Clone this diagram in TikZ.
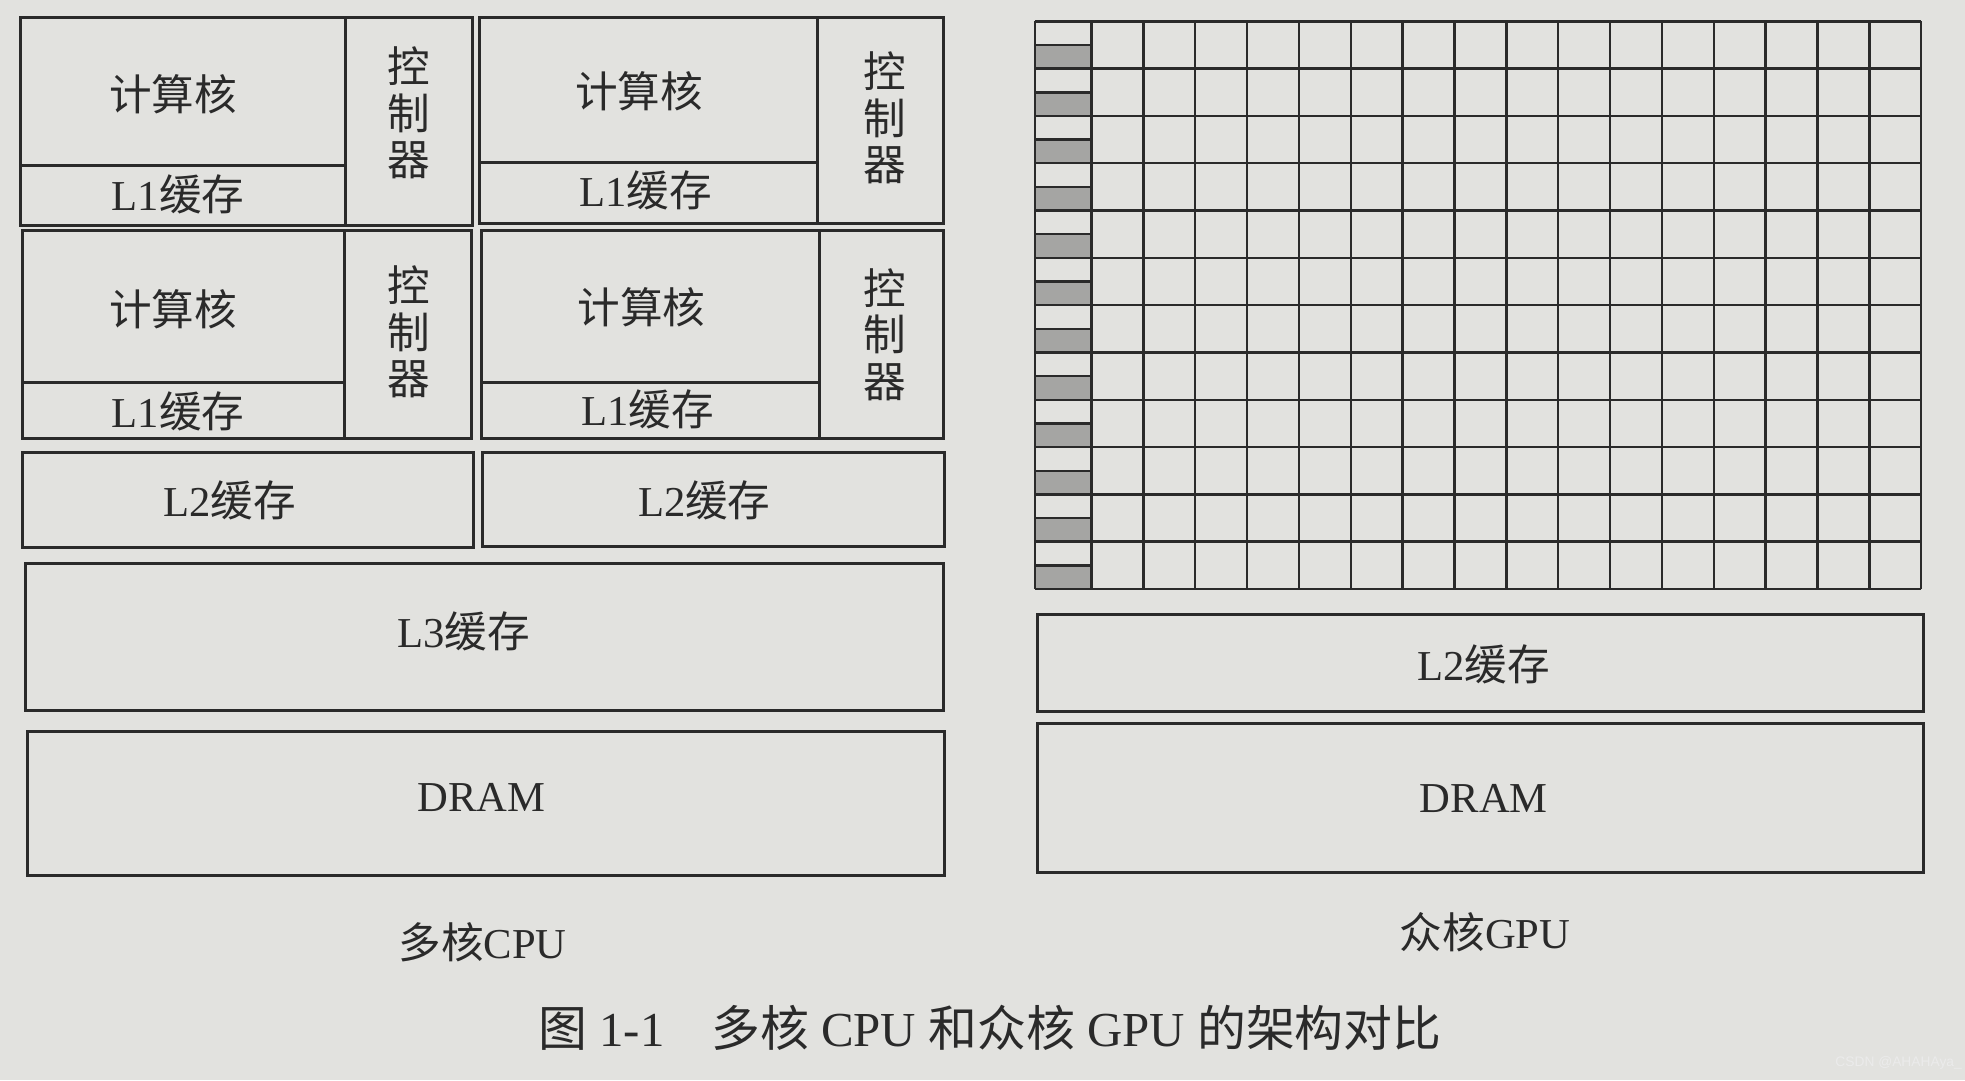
\documentclass[tikz,border=0pt]{standalone}
\usepackage{fontspec}
\setmainfont{Liberation Serif}
\setsansfont{Liberation Sans}
\newfontfamily\cjk{Noto Sans CJK SC}
\definecolor{paper}{RGB}{226,226,223}
\definecolor{ink}{RGB}{42,42,42}
\definecolor{cellgray}{RGB}{165,165,163}
\begin{document}
\begin{tikzpicture}[x=0.5pt,y=-0.5pt,
  frame/.style={draw=ink,line width=1.2pt},
  gridline/.style={draw=ink,line width=1pt},
  lab/.style={font=\fontsize{17}{18}\selectfont,inner sep=0pt,text=ink},
  ctl/.style={align=center,font=\cjk\fontsize{17}{18.5}\selectfont,inner sep=0pt,text=ink},
  captext/.style={font=\fontsize{19.5}{22}\selectfont,inner sep=0pt,text=ink}]
\useasboundingbox (0,0) rectangle (1568,862);
\fill[paper] (0,0) rectangle (1568,862);

% ---------- multi-core CPU ----------
% core A
\draw[frame] (16,14) rectangle (377,180);
\draw[frame] (276,14) -- (276,180);
\draw[frame] (16,132) -- (276,132);
\node[lab] (cA) at (138,75) {\cjk 计算核};
\node[lab] (lA) at (142,155) {L1{\cjk 缓存}};
\node[ctl] (kA) at (326,90) {控\\制\\器};
% core B
\draw[frame] (383,14) rectangle (753,178);
\draw[frame] (652,14) -- (652,178);
\draw[frame] (383,130) -- (652,130);
\node[lab] (cB) at (510,73) {\cjk 计算核};
\node[lab] (lB) at (515,152) {L1{\cjk 缓存}};
\node[ctl] (kB) at (706,94) {控\\制\\器};
% core C
\draw[frame] (18,184) rectangle (376,350);
\draw[frame] (275,184) -- (275,350);
\draw[frame] (18,305) -- (275,305);
\node[lab] (cC) at (138,247) {\cjk 计算核};
\node[lab] (lC) at (142,328) {L1{\cjk 缓存}};
\node[ctl] (kC) at (326,265) {控\\制\\器};
% core D
\draw[frame] (384,184) rectangle (753,350);
\draw[frame] (654,184) -- (654,350);
\draw[frame] (384,305) -- (654,305);
\node[lab] (cD) at (512,245) {\cjk 计算核};
\node[lab] (lD) at (517,327) {L1{\cjk 缓存}};
\node[ctl] (kD) at (706,267) {控\\制\\器};
% L2 caches
\draw[frame] (18,361) rectangle (378,437);
\node[lab] (l2a) at (183,399) {L2{\cjk 缓存}};
\draw[frame] (385,361) rectangle (754,436);
\node[lab] (l2b) at (562,399) {L2{\cjk 缓存}};
% L3 cache
\draw[frame] (20,450) rectangle (753,567);
\node[lab] (l3) at (370,504) {L3{\cjk 缓存}};
% DRAM
\draw[frame] (22,584) rectangle (754,699);
\node[lab] (dramC) at (384,636) {DRAM};
\node[lab] (cpu) at (385,752) {{\cjk 多核}CPU};

% ---------- many-core GPU ----------
\foreach \r in {0,...,11}{
  \fill[cellgray] (826,{17+37.75*\r+18.9}) rectangle (871,{17+37.75*(\r+1)});
  \draw[gridline] (826,{17+37.75*\r+18.9}) -- (871,{17+37.75*\r+18.9});
}
\foreach \r in {0,...,12}{
  \draw[gridline] (826,{17+37.75*\r}) -- (1533,{17+37.75*\r});
}
\draw[gridline] (826,17) -- (826,470);
\foreach \c in {0,...,16}{
  \draw[gridline] ({871+41.375*\c},17) -- ({871+41.375*\c},470);
}
\draw[frame] (828,490) rectangle (1535,568);
\node[lab] (l2g) at (1184,530) {L2{\cjk 缓存}};
\draw[frame] (828,577) rectangle (1535,696);
\node[lab] (dramG) at (1184,637) {DRAM};
\node[lab] (gpu) at (1185,744) {{\cjk 众核}GPU};

% caption
\node[captext] (caption) at (790,820) {{\cjk 图} 1-1\hspace{0.95em}{\cjk 多核} CPU {\cjk 和众核} GPU {\cjk 的架构对比}};
\node[font=\sffamily\fontsize{5.5}{6}\selectfont,text=white!92!black,inner sep=0pt] (wm) at (1515,848) {CSDN @AHAHAya\_};
\end{tikzpicture}
\end{document}
